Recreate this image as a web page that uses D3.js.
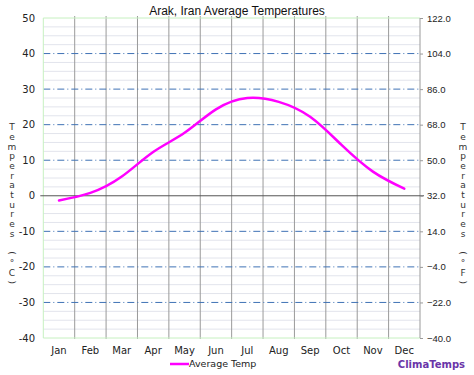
<!DOCTYPE html>
<html>
<head>
<meta charset="utf-8">
<script src="https://cdn.jsdelivr.net/npm/d3@7"></script>
<style>
  body { margin: 0; background: #fff; }
  svg { display: block; }
</style>
</head>
<body>
<div id="chart"></div>
<script>
// Arak, Iran monthly average temperature (°C)
const months = ["Jan", "Feb", "Mar", "Apr", "May", "Jun", "Jul", "Aug", "Sep", "Oct", "Nov", "Dec"];
const avgTemp = [-1.3, 0.8, 5.4, 12.3, 17.7, 24.3, 27.5, 26.4, 22.2, 14.3, 6.8, 2.0];
const celsiusTicks = [-40, -30, -20, -10, 0, 10, 20, 30, 40, 50];
const fahrenheitTicks = [-40, -22, -4, 14, 32, 50, 68, 86, 104, 122];

const width = 474;
const height = 375;
const margin = { top: 18, right: 54, bottom: 37, left: 43.3 };

const svg = d3.select("#chart")
    .append("svg")
    .attr("width", width)
    .attr("height", height);

const x = d3.scaleBand()
    .domain(months)
    .range([margin.left, width - margin.right]);

const y = d3.scaleLinear()
    .domain([-40, 50])
    .range([height - margin.bottom, margin.top]);

const yF = d3.scaleLinear()
    .domain([-40, 122])
    .range(y.range());

const x0 = margin.left, x1 = width - margin.right;

// minor grid every 2.5 degrees
const minor = d3.range(-40, 50.01, 2.5).filter(v => v % 10 !== 0);
svg.append("g").selectAll("line")
    .data(minor)
    .join("line")
    .attr("x1", x0).attr("x2", x1)
    .attr("y1", d => y(d)).attr("y2", d => y(d))
    .attr("stroke", "#e2e4ec")
    .attr("stroke-width", 1);

// month separators
svg.append("g").selectAll("line")
    .data(months.slice(1))
    .join("line")
    .attr("x1", d => x(d)).attr("x2", d => x(d))
    .attr("y1", margin.top - 2).attr("y2", y(-40) + 1)
    .attr("stroke", "#9a9a9a")
    .attr("stroke-width", 1);

// major dash-dot lines
svg.append("g").selectAll("line")
    .data(celsiusTicks.filter(v => v !== 0 && v !== 50 && v !== -40))
    .join("line")
    .attr("x1", x0).attr("x2", x1)
    .attr("y1", d => y(d)).attr("y2", d => y(d))
    .attr("stroke", "#3f72b5")
    .attr("stroke-width", 1)
    .attr("stroke-dasharray", "7,3,1,3");

// frame: light green on left/top/bottom, grey on right
svg.append("line")
    .attr("x1", x0).attr("x2", x1).attr("y1", y(50)).attr("y2", y(50))
    .attr("stroke", "#c6f0c0");
svg.append("line")
    .attr("x1", x0).attr("x2", x1).attr("y1", y(-40)).attr("y2", y(-40))
    .attr("stroke", "#c6f0c0");
svg.append("line")
    .attr("x1", x0).attr("x2", x0).attr("y1", y(50)).attr("y2", y(-40))
    .attr("stroke", "#c6f0c0");
svg.append("line")
    .attr("x1", x1).attr("x2", x1).attr("y1", y(50)).attr("y2", y(-40))
    .attr("stroke", "#9a9a9a");

// zero line
svg.append("line")
    .attr("x1", x0 - 3).attr("x2", x1 + 4)
    .attr("y1", y(0)).attr("y2", y(0))
    .attr("stroke", "#555")
    .attr("stroke-width", 1);

// left axis labels (°C)
svg.append("g").selectAll("text")
    .data(celsiusTicks)
    .join("text")
    .attr("x", 35)
    .attr("y", d => y(d))
    .attr("dy", "0.35em")
    .attr("text-anchor", "end")
    .style("font-family", "DejaVu Sans, Verdana, sans-serif")
    .style("font-size", "10px")
    .attr("fill", "#222")
    .text(d => d);

// right axis (°F)
const rightAxis = svg.append("g")
    .attr("transform", `translate(${x1},0)`)
    .call(d3.axisRight(yF).tickValues(fahrenheitTicks).tickFormat(d3.format(".1f")).tickSize(3).tickPadding(4));
rightAxis.select(".domain").remove();
rightAxis.selectAll("line").attr("stroke", "#9a9a9a");
rightAxis.selectAll("text")
    .style("font-family", "Liberation Sans, Arial, sans-serif")
    .style("font-size", "9.5px")
    .attr("fill", "#222");

// month labels
svg.append("g").selectAll("text")
    .data(months)
    .join("text")
    .attr("x", d => x(d) + x.bandwidth() / 2)
    .attr("y", 354)
    .attr("text-anchor", "middle")
    .style("font-family", "DejaVu Sans, Verdana, sans-serif")
    .style("font-size", "10px")
    .attr("fill", "#222")
    .text(d => d);

// vertical axis titles, one letter under another
function stackedTitle(xPos, text) {
    const chars = Array.from(text);
    const g = svg.append("g");
    chars.forEach((c, i) => {
        const cy = 127 + i * 9.7;
        const t = g.append("text")
            .attr("x", xPos)
            .attr("y", cy)
            .attr("text-anchor", "middle")
            .attr("dy", "0.35em")
            .style("font-family", "DejaVu Sans, Verdana, sans-serif")
            .style("font-size", "9px")
            .attr("fill", "#333")
            .text(c);
        if (c === "(" || c === ")") t.attr("transform", `rotate(90,${xPos},${cy})`);
    });
}
stackedTitle(12, "Temperatures (°C)");
stackedTitle(463, "Temperatures (°F)");

// title
svg.append("text")
    .attr("x", 237)
    .attr("y", 15)
    .attr("text-anchor", "middle")
    .style("font-family", "Liberation Sans, Arial, sans-serif")
    .style("font-size", "12px")
    .attr("fill", "#111")
    .text("Arak, Iran Average Temperatures");

// temperature line
const line = d3.line()
    .x((d, i) => x(months[i]) + x.bandwidth() / 2)
    .y(d => y(d))
    .curve(d3.curveNatural);

svg.append("path")
    .datum(avgTemp)
    .attr("d", line)
    .attr("fill", "none")
    .attr("stroke", "#ff00ff")
    .attr("stroke-width", 2.5)
    .attr("stroke-linecap", "round");

// legend
svg.append("line")
    .attr("x1", 170).attr("x2", 189)
    .attr("y1", 364).attr("y2", 364)
    .attr("stroke", "#ff00ff")
    .attr("stroke-width", 2.5);
svg.append("text")
    .attr("x", 189)
    .attr("y", 364)
    .attr("dy", "0.35em")
    .style("font-family", "DejaVu Sans, Verdana, sans-serif")
    .style("font-size", "9.5px")
    .attr("fill", "#222")
    .text("Average Temp");

svg.append("text")
    .attr("x", 465)
    .attr("y", 364)
    .attr("dy", "0.35em")
    .attr("text-anchor", "end")
    .style("font-family", "DejaVu Sans, Verdana, sans-serif")
    .style("font-size", "10px")
    .style("font-weight", "bold")
    .attr("fill", "#6a35a8")
    .text("ClimaTemps");
</script>
</body>
</html>
